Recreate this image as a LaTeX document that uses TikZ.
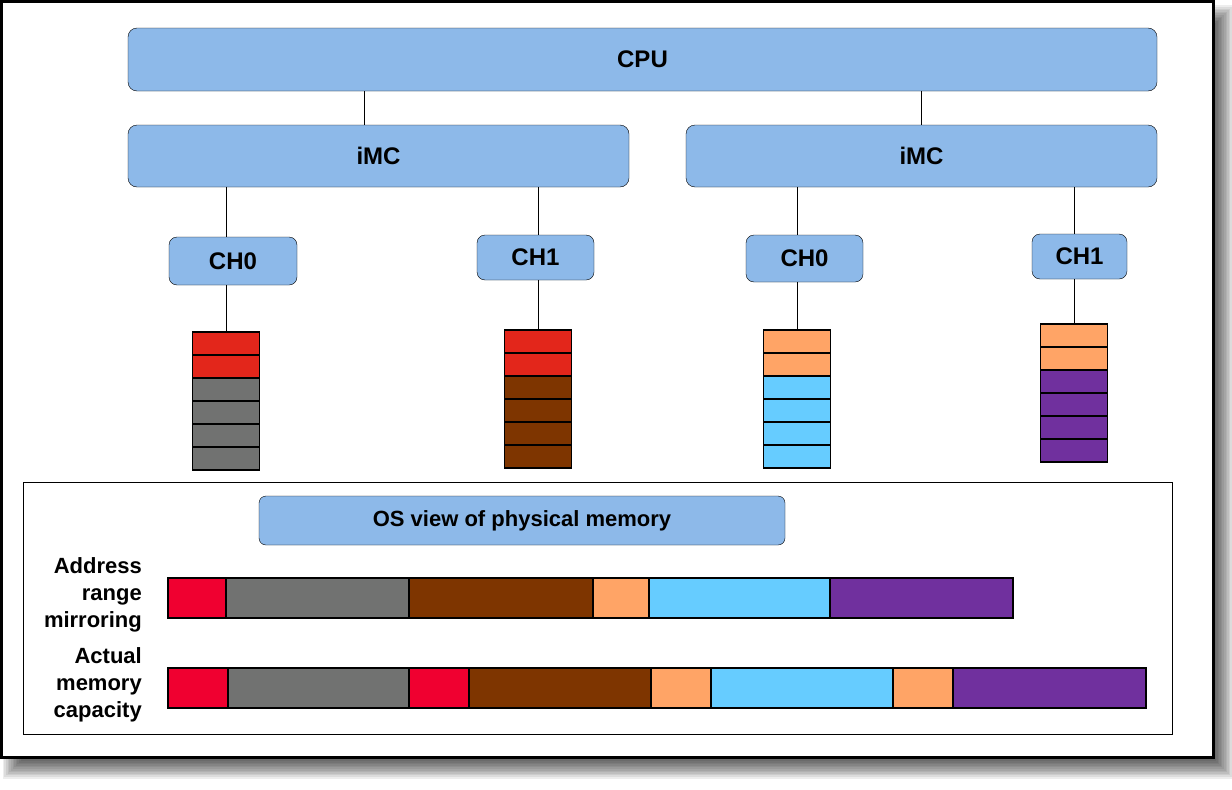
\documentclass[tikz,border=0pt]{standalone}
\usepackage{fontspec}
\setmainfont{Liberation Sans}
\usetikzlibrary{positioning}

\definecolor{boxblue}{RGB}{141,185,233}
\definecolor{memred}{RGB}{227,38,27}
\definecolor{barred}{RGB}{240,0,48}
\definecolor{memgray}{RGB}{113,114,113}
\definecolor{membrown}{RGB}{126,53,0}
\definecolor{memorange}{RGB}{255,164,102}
\definecolor{memcyan}{RGB}{102,204,255}
\definecolor{mempurple}{RGB}{112,48,158}

\begin{document}
\begin{tikzpicture}[x=1pt, y=-1pt,
  box/.style={draw, fill=boxblue, rounded corners=9pt, inner sep=0pt, font=\bfseries\fontsize{24}{28}\selectfont},
  cell/.style={draw, line width=1.2pt, minimum width=67pt, minimum height=23pt, inner sep=0pt},
  seg/.style={draw, line width=1.2pt, minimum height=40pt, inner sep=0pt, outer sep=0pt},
  lbl/.style={anchor=east, align=right, inner sep=0pt, font=\bfseries\fontsize{22}{27}\selectfont}]
\useasboundingbox (0,0) rectangle (1232,790);

% shadow and frame
\foreach \k in {0,...,11}
  \fill[black, opacity=0.07] ({11.5+9-1.6*\k},{14+9-1.6*\k}) rectangle ({1225-9+1.6*\k},{770-9+1.6*\k});
\draw[line width=3pt, fill=white] (1.5,1.5) rectangle (1213,757);

% controllers
\node [box, minimum width=1029pt, minimum height=63pt] (cpu) at (642.5,59.5) {CPU};
\node [box, minimum width=501pt, minimum height=62pt] (imcL) at (378.5,156) {iMC};
\node [box, minimum width=471pt, minimum height=62pt] (imcR) at (921.5,156) {iMC};
\node [box, rounded corners=8pt, minimum width=128pt, minimum height=48pt] (ch0L) at (233,261) {CH0};
\node [box, rounded corners=8pt, minimum width=117pt, minimum height=45pt] (ch1L) at (535.5,257.5) {CH1};
\node [box, rounded corners=8pt, minimum width=117pt, minimum height=47pt] (ch0R) at (804.5,258.5) {CH0};
\node [box, rounded corners=8pt, minimum width=95pt, minimum height=45pt] (ch1R) at (1079.5,256.5) {CH1};

% DIMM stacks
\foreach \s/\x/\y/\ca/\cb in {1/226/332/memred/memgray, 2/538/330/memred/membrown,
                               3/797/330/memorange/memcyan, 4/1074/324/memorange/mempurple} {
  \foreach \k in {1,...,6} {
    \ifnum\k<3 \def\c{\ca}\else\def\c{\cb}\fi
    \node [cell, fill=\c] (m\s-\k) at (\x,{\y+11.5+23*(\k-1)}) {};
  }
}

\draw ([xshift=-14pt]imcL.north) -- ([xshift=-14pt]imcL.north |- cpu.south);
\draw (imcR.north) -- (imcR.north |- cpu.south);
\draw (imcL.south -| m1-1.north) -- (ch0L.north -| m1-1.north);
\draw (imcL.south -| m2-1.north) -- (ch1L.north -| m2-1.north);
\draw (imcR.south -| m3-1.north) -- (ch0R.north -| m3-1.north);
\draw (imcR.south -| m4-1.north) -- (ch1R.north -| m4-1.north);
\draw (ch0L.south -| m1-1.north) -- (m1-1.north);
\draw (ch1L.south -| m2-1.north) -- (m2-1.north);
\draw (ch0R.south -| m3-1.north) -- (m3-1.north);
\draw (ch1R.south -| m4-1.north) -- (m4-1.north);

% OS view
\node [draw, minimum width=1149pt, minimum height=252pt] (view) at (597.5,608) {};
\node [box, rounded corners=7pt, minimum width=526pt, minimum height=49pt, font=\bfseries\fontsize{22}{26}\selectfont] (os) at (522,520.5) {OS view of physical memory};
\node [lbl] (lblA) at (142,595) {Address\\range\\mirroring};
\node [lbl] (lblB) at (142,684.5) {Actual\\memory\\capacity};

\node [seg, fill=barred, minimum width=58pt, anchor=west] (a1) at (168,598) {};
\node [seg, fill=memgray, minimum width=183pt, right=0pt of a1] (a2) {};
\node [seg, fill=membrown, minimum width=184pt, right=0pt of a2] (a3) {};
\node [seg, fill=memorange, minimum width=56pt, right=0pt of a3] (a4) {};
\node [seg, fill=memcyan, minimum width=181pt, right=0pt of a4] (a5) {};
\node [seg, fill=mempurple, minimum width=183pt, right=0pt of a5] (a6) {};

\node [seg, fill=barred, minimum width=60pt, anchor=west] (b1) at (168,688) {};
\node [seg, fill=memgray, minimum width=181pt, right=0pt of b1] (b2) {};
\node [seg, fill=barred, minimum width=60pt, right=0pt of b2] (b3) {};
\node [seg, fill=membrown, minimum width=182pt, right=0pt of b3] (b4) {};
\node [seg, fill=memorange, minimum width=60pt, right=0pt of b4] (b5) {};
\node [seg, fill=memcyan, minimum width=182pt, right=0pt of b5] (b6) {};
\node [seg, fill=memorange, minimum width=60pt, right=0pt of b6] (b7) {};
\node [seg, fill=mempurple, minimum width=193pt, right=0pt of b7] (b8) {};
\end{tikzpicture}
\end{document}
